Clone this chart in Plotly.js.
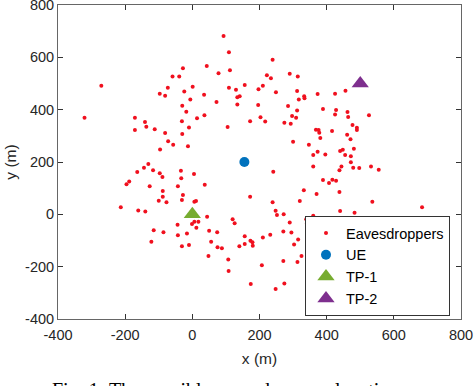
<!DOCTYPE html>
<html>
<head>
<meta charset="utf-8">
<script src="https://cdn.plot.ly/plotly-3.0.1.min.js"></script>
<style>html,body{margin:0;padding:0;background:#fff;}#chart{width:474px;height:386px;}</style>
</head>
<body>
<div id="chart"></div>
<script>
// Eavesdropper positions (m)
const eveX = [93,109,43,112,78,-28,-59,-39,-271,-73,1,109,130,-24,-97,-81,35,134,141,-6,72,134,-30,-18,-321,-171,36,14,-31,-141,105,-10,-137,-171,-112,-81,-30,-72,-57,-13,-96,-131,-144,-117,-164,-97,-34,5,-89,-33,-188,-196,-127,-43,37,-88,-28,-88,
  -213,-100,-77,-31,6,11,-161,-140,44,120,126,-44,-1,18,6,12,-115,-86,-43,-16,50,74,56,-122,-31,-10,75,88,140,48,107,108,
  239,222,234,290,314,156,210,197,249,312,333,334,373,425,456,317,196,285,389,428,312,462,425,297,309,464,203,217,172,526,274,293,477,490,490,368,376,378,416,461,381,471,300,347,481,373,440,448,360,396,455,472,472,360,444,479,497,532,555,438,241,389,407,417,428,332,370,438,172,
  536,684,239,248,252,272,320,360,440,483,339,341,290,399,271,295,377,156,232,210,173,179,180,156,303,315,325,313,271,207,174,274,248];
const eveY = [682,619,567,551,539,558,527,527,491,484,488,484,476,469,461,453,457,447,451,439,429,420,415,392,369,369,379,367,356,353,334,332,335,322,325,311,307,279,266,260,248,192,178,168,162,157,167,154,143,138,125,115,107,107,113,89,74,67,
  27,52,46,55,48,51,15,11,-9,-19,-34,-40,-37,-28,-28,-51,-61,-68,-80,-73,-63,-68,-105,-105,-122,-117,-126,-130,-122,-159,-173,-217,
  591,532,520,537,527,494,491,478,467,471,451,444,460,461,472,439,418,414,403,399,397,391,382,376,369,372,371,355,356,379,350,346,341,331,322,323,322,312,318,304,292,287,277,266,251,239,242,247,227,229,227,222,199,183,183,178,177,183,170,168,163,131,120,132,128,92,78,85,67,
  48,27,46,14,-3,0,51,-5,13,6,-19,-36,-31,-32,-66,-69,-51,-84,-78,-89,-101,-107,-120,-113,-115,-96,-159,-182,-178,-195,-266,-264,-285];
const ueX = [155], ueY = [200];
const tp1X = [0], tp1Y = [0];
const tp2X = [500], tp2Y = [500];
const seriesNames = ['Eavesdroppers', 'UE', 'TP-1', 'TP-2'];
const tickVals = [-400, -200, 0, 200, 400, 600, 800];
const tickText = ['-400', '-200', '0', '200', '400', '600', '800'];
const captionText = 'Fig. 1: The possible eavesdroppers locations';

const FONT = 'Liberation Sans, Arial, sans-serif';
const traces = [
  {x: eveX, y: eveY, name: seriesNames[0], mode: 'markers', type: 'scatter',
   marker: {color: '#f0101e', size: 4}},
  {x: ueX, y: ueY, name: seriesNames[1], mode: 'markers', type: 'scatter',
   marker: {color: '#0072BD', size: 10}},
  {x: tp1X, y: tp1Y, name: seriesNames[2], mode: 'markers', type: 'scatter',
   marker: {color: '#77AC30', size: 15, symbol: 'triangle-up'}},
  {x: tp2X, y: tp2Y, name: seriesNames[3], mode: 'markers', type: 'scatter',
   marker: {color: '#7E2F8E', size: 15, symbol: 'triangle-up'}}
];
const axisCommon = {
  showgrid: false, zeroline: false, showline: true, mirror: 'ticks',
  linecolor: '#666', linewidth: 1, ticks: 'inside', ticklen: 5, tickcolor: '#333',
  tickfont: {family: FONT, size: 14.5, color: '#262626'},
  tickvals: tickVals, ticktext: tickText, ticklabeloverflow: 'allow'
};
const layout = {
  width: 474, height: 386,
  margin: {l: 58, r: 13, t: 5, b: 67},
  paper_bgcolor: '#fff', plot_bgcolor: '#fff',
  showlegend: true,
  xaxis: Object.assign({}, axisCommon, {range: [-400, 800], ticklabelstandoff: 3,
    title: {text: 'x (m)', font: {family: FONT, size: 15.5, color: '#262626'}, standoff: 10}}),
  yaxis: Object.assign({}, axisCommon, {range: [-400, 800],
    title: {text: 'y (m)', font: {family: FONT, size: 15.5, color: '#262626'}, standoff: 4}}),
  legend: {x: 0.9727, y: 0.0096, xanchor: 'right', yanchor: 'bottom',
    bgcolor: '#fff', bordercolor: '#333', borderwidth: 1,
    font: {family: FONT, size: 14.5, color: '#000'}, tracegroupgap: 0},
  annotations: [{
    text: captionText, xref: 'paper', yref: 'paper',
    x: -0.02, y: -0.184, xanchor: 'left', yanchor: 'top', showarrow: false,
    font: {family: 'Liberation Serif, Times New Roman, serif', size: 20, color: '#000'}
  }]
};
Plotly.newPlot('chart', traces, layout, {displayModeBar: false, staticPlot: true});
</script>
</body>
</html>
